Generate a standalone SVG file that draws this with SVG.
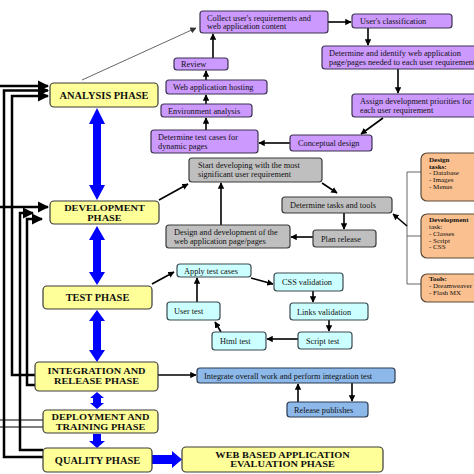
<svg xmlns="http://www.w3.org/2000/svg" width="474" height="474" viewBox="0 0 474 474">
<defs>
<style>
.ph{fill:#FFFF99;stroke:#3a3a3a;stroke-width:1.2}
.pu{fill:#CC99FF;stroke:#3d3350;stroke-width:1.2}
.gr{fill:#BFBFBF;stroke:#3a3a3a;stroke-width:1.2}
.cy{fill:#CCFFFF;stroke:#3a4a50;stroke-width:1.2}
.bl{fill:#8DB9EA;stroke:#2a3a50;stroke-width:1.2}
.or{fill:#FAC08F;stroke:#5a4a3a;stroke-width:1.2}
.pt{font-family:"Liberation Serif",serif;font-weight:bold;font-size:10.4px;fill:#111;text-anchor:middle}
.p2{font-family:"Liberation Serif",serif;font-weight:bold;font-size:8.6px;fill:#111;text-anchor:middle}
.t{font-family:"Liberation Serif",serif;font-size:8.3px;fill:#111}
.ot{font-family:"Liberation Serif",serif;font-size:5.8px;fill:#111}
.ob{font-family:"Liberation Serif",serif;font-size:5.8px;font-weight:bold;fill:#111}
.c{fill:none;stroke:#000;stroke-width:1.6}
.lk{fill:none;stroke:#000;stroke-width:2.5}
.th{fill:none;stroke:#000;stroke-width:1}
.gy{fill:none;stroke:#555;stroke-width:0.9}
.ba{fill:#0000FF}
</style>
<marker id="ah" viewBox="0 0 10 10" refX="9" refY="5" markerWidth="4" markerHeight="4" orient="auto"><path d="M0,0 L10,5 L0,10 z" fill="#000"/></marker>
<marker id="ahs" viewBox="0 0 10 10" refX="9" refY="5" markerWidth="4.5" markerHeight="4.5" orient="auto"><path d="M0,0 L10,5 L0,10 z" fill="#000"/></marker>
<marker id="ahg" viewBox="0 0 10 10" refX="9" refY="5" markerWidth="7" markerHeight="7" orient="auto"><path d="M0,0 L10,5 L0,10 z" fill="#333"/></marker>
</defs>

<g id="connectors">
<path class="lk" d="M0,86 H48" marker-end="url(#ahs)"/>
<path class="lk" d="M43,457 H4 V90.5 H48" marker-end="url(#ahs)"/>
<path class="lk" d="M35,375 H12 V96 H48" marker-end="url(#ahs)"/>
<path class="lk" d="M0,207 H48" marker-end="url(#ahs)"/>
<path class="lk" d="M43,450 H20 V213 H33" marker-end="url(#ahs)"/>
<path class="lk" d="M35,385 H27 V219 H42" marker-end="url(#ahs)"/>
<path class="th" d="M0,420 H43 M0,427 H43"/>
<path class="gy" d="M82,80 L196,28" marker-end="url(#ahg)"/>
<path class="c" d="M328,22 H351" marker-end="url(#ah)"/>
<path class="c" d="M368,28 V45" marker-end="url(#ah)"/>
<path class="c" d="M398,69 V93" marker-end="url(#ah)"/>
<path class="c" d="M383,118 L361,134" marker-end="url(#ah)"/>
<path class="c" d="M290,143 H259" marker-end="url(#ah)"/>
<path class="c" d="M206,130 V118" marker-end="url(#ah)"/>
<path class="c" d="M206,104 V95" marker-end="url(#ah)"/>
<path class="c" d="M206,80 V71" marker-end="url(#ah)"/>
<path class="c" d="M213,58 V34" marker-end="url(#ah)"/>
<path class="c" d="M159,200 L188,184" marker-end="url(#ah)"/>
<path class="c" d="M322,183 L337,193" marker-end="url(#ah)"/>
<path class="c" d="M344,213 V229" marker-end="url(#ah)"/>
<path class="c" d="M313,237 H291" marker-end="url(#ah)"/>
<path class="c" d="M221,225 V183" marker-end="url(#ah)"/>
<path class="gy" d="M421,172 H407 V284 H421 M407,236 H421"/>
<path class="c" d="M407,226 L393,214" marker-end="url(#ah)"/>
<path class="c" d="M152,284 L174,272" marker-end="url(#ah)"/>
<path class="c" d="M251,278 L273,284" marker-end="url(#ah)"/>
<path class="c" d="M313,291 V302" marker-end="url(#ah)"/>
<path class="c" d="M329,320 V331" marker-end="url(#ah)"/>
<path class="c" d="M298,339 H267" marker-end="url(#ah)"/>
<path class="c" d="M221,332 L215,322" marker-end="url(#ah)"/>
<path class="c" d="M197,302 V278" marker-end="url(#ah)"/>
<path class="c" d="M158,375 H196" marker-end="url(#ah)"/>
<path class="c" d="M352,383 V401" marker-end="url(#ah)"/>
<path class="c" d="M298,402 V384" marker-end="url(#ah)"/>
<path class="ba" d="M97,108 L105,124 L101,124 L101,185 L105,185 L97,200 L89,185 L93,185 L93,124 L89,124 z"/>
<path class="ba" d="M97,226 L105,240 L101,240 L101,272 L105,272 L97,285 L89,272 L93,272 L93,240 L89,240 z"/>
<path class="ba" d="M97,310 L105,321 L101,321 L101,350 L105,350 L97,362 L89,350 L93,350 L93,321 L89,321 z"/>
<path class="ba" d="M97,392 L104,398 L101,398 L101,403 L104,403 L97,409 L90,403 L93,403 L93,398 L90,398 z"/>
<path class="ba" d="M93,434 L101,434 L101,441 L105,441 L97,448 L89,441 L93,441 z"/>
<path class="ba" d="M152,455 L172,455 L172,451 L182,459.5 L172,468 L172,464 L152,464 z"/>
</g>

<g id="analysis"><rect class="ph" x="50" y="83" width="108" height="24" rx="4"/><text class="pt" x="104" y="98.5">ANALYSIS PHASE</text></g>
<g id="development"><rect class="ph" x="50" y="201" width="109" height="23" rx="4"/><g transform="translate(104.5,0) scale(1.2,1)"><text class="p2" x="0" y="211.3">DEVELOPMENT</text><text class="p2" x="0" y="221">PHASE</text></g></g>
<g id="test"><rect class="ph" x="43" y="286" width="109" height="23" rx="4"/><text class="pt" x="97.5" y="301">TEST PHASE</text></g>
<g id="integration"><rect class="ph" x="35" y="362" width="123" height="29" rx="4"/><g transform="translate(96.5,0) scale(1.2,1)"><text class="p2" x="0" y="374">INTEGRATION AND</text><text class="p2" x="0" y="383.7">RELEASE PHASE</text></g></g>
<g id="deployment"><rect class="ph" x="43" y="410" width="115" height="23" rx="4"/><g transform="translate(100.5,0) scale(1.2,1)"><text class="p2" x="0" y="420.4">DEPLOYMENT AND</text><text class="p2" x="0" y="430.1">TRAINING PHASE</text></g></g>
<g id="quality"><rect class="ph" x="43" y="448" width="109" height="24" rx="4"/><text class="pt" x="97.5" y="463.5">QUALITY PHASE</text></g>
<g id="evaluation"><rect class="ph" x="182" y="447" width="201" height="25" rx="4"/><g transform="translate(282.5,0) scale(1.2,1)"><text class="p2" x="0" y="457.6">WEB BASED APPLICATION</text><text class="p2" x="0" y="467.3">EVALUATION PHASE</text></g></g>

<g id="collect"><rect class="pu" x="200" y="11" width="128" height="22" rx="3"/><text class="t" x="207" y="20.5">Collect user's requirements and</text><text class="t" x="207" y="28.5">web application content</text></g>
<g id="classification"><rect class="pu" x="352" y="14" width="100" height="14" rx="3"/><text class="t" x="360" y="24">User's classification</text></g>
<g id="identify"><rect class="pu" x="322" y="46" width="160" height="23" rx="3"/><text class="t" x="329" y="56">Determine and identify web application</text><text class="t" x="329" y="65">page/pages needed to each user requirement</text></g>
<g id="priorities"><rect class="pu" x="352" y="94" width="130" height="23" rx="3"/><text class="t" x="360" y="104">Assign development priorities for</text><text class="t" x="360" y="113">each user requirement</text></g>
<g id="conceptual"><rect class="pu" x="290" y="135" width="82" height="16" rx="3"/><text class="t" x="298" y="146">Conceptual design</text></g>
<g id="testcases"><rect class="pu" x="151" y="130" width="107" height="23" rx="3"/><text class="t" x="158" y="139.5">Determine test cases for</text><text class="t" x="158" y="148.5">dynamic pages</text></g>
<g id="environment"><rect class="pu" x="161" y="104" width="91" height="13" rx="3"/><text class="t" x="168" y="113.5">Environment analysis</text></g>
<g id="hosting"><rect class="pu" x="166" y="80" width="101" height="14" rx="3"/><text class="t" x="173" y="90">Web application hosting</text></g>
<g id="review"><rect class="pu" x="174" y="58" width="54" height="12" rx="3"/><text class="t" x="181" y="67">Review</text></g>

<g id="startdev"><rect class="gr" x="189" y="158" width="133" height="24" rx="3"/><text class="t" x="198" y="168">Start developing with the most</text><text class="t" x="198" y="177">significant user requirement</text></g>
<g id="tasks"><rect class="gr" x="282" y="197" width="110" height="16" rx="3"/><text class="t" x="290" y="208">Determine tasks and tools</text></g>
<g id="planrelease"><rect class="gr" x="313" y="230" width="63" height="17" rx="3"/><text class="t" x="321" y="241.5">Plan release</text></g>
<g id="designdev"><rect class="gr" x="166" y="225" width="124" height="23" rx="3"/><text class="t" x="174" y="234.5">Design and development of the</text><text class="t" x="174" y="243.5">web application page/pages</text></g>

<g id="designtasks"><rect class="or" x="421" y="153" width="60" height="48" rx="6"/>
<g transform="translate(429,0) scale(1.22,1)"><text class="ob" x="0" y="162">Design</text><text class="ob" x="0" y="168.7">tasks:</text><text class="ot" x="0" y="175.4">- Database</text><text class="ot" x="0" y="182.1">- Images</text><text class="ot" x="0" y="188.8">- Menus</text></g></g>
<g id="devtask"><rect class="or" x="421" y="214" width="60" height="44" rx="6"/>
<g transform="translate(429,0) scale(1.22,1)"><text class="ob" x="0" y="222.5">Development</text><text class="ot" x="0" y="229.2">task:</text><text class="ot" x="0" y="235.9">- Classes</text><text class="ot" x="0" y="242.6">- Script</text><text class="ot" x="0" y="249.3">- CSS</text></g></g>
<g id="tools"><rect class="or" x="421" y="274" width="60" height="28" rx="6"/>
<g transform="translate(429,0) scale(1.2,1)"><text class="ob" x="0" y="281.5">Tools:</text><text class="ot" x="0" y="288.2">- Dreamweaver</text><text class="ot" x="0" y="294.9">- Flash MX</text></g></g>

<g id="applytest"><rect class="cy" x="177" y="264" width="74" height="13" rx="3"/><text class="t" x="184" y="273.5">Apply test cases</text></g>
<g id="cssval"><rect class="cy" x="274" y="273" width="69" height="18" rx="3"/><text class="t" x="282" y="285">CSS validation</text></g>
<g id="linksval"><rect class="cy" x="290" y="303" width="78" height="17" rx="3"/><text class="t" x="297" y="314.5">Links validation</text></g>
<g id="scripttest"><rect class="cy" x="298" y="332" width="54" height="17" rx="3"/><text class="t" x="306" y="343.5">Script test</text></g>
<g id="htmltest"><rect class="cy" x="212" y="332" width="54" height="18" rx="3"/><text class="t" x="220" y="344">Html test</text></g>
<g id="usertest"><rect class="cy" x="167" y="302" width="53" height="18" rx="3"/><text class="t" x="174" y="313.5">User test</text></g>

<g id="integrate"><rect class="bl" x="197" y="368" width="198" height="15" rx="3"/><text class="t" x="204" y="378.5">Integrate overall work and perform integration test</text></g>
<g id="releasepub"><rect class="bl" x="287" y="402" width="81" height="15" rx="3"/><text class="t" x="294" y="412.5">Release publishes</text></g>
</svg>
